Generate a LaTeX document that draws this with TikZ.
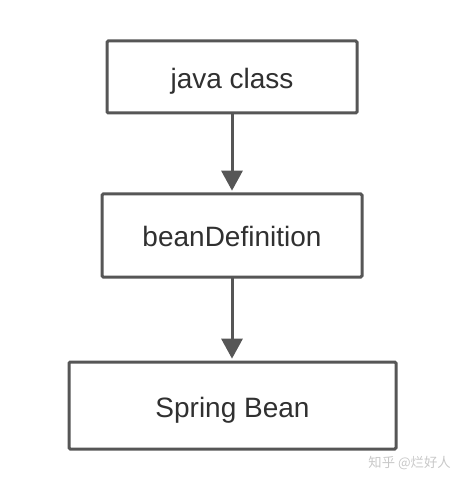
\documentclass[tikz,border=0pt]{standalone}
\usepackage{fontspec}
\setmainfont{Liberation Sans}
\newfontfamily\cjkfont{Noto Sans CJK SC}
\usetikzlibrary{arrows.meta}
\definecolor{edgegray}{HTML}{565656}
\definecolor{txtgray}{HTML}{303030}
\definecolor{wmgray}{HTML}{C8C8C8}
\tikzset{
  boxnode/.style={draw=edgegray, line width=2.25pt, rounded corners=1pt, fill=white,
    inner sep=0pt, outer sep=0pt, text=txtgray, font=\fontsize{21}{25}\selectfont,
    text height=15pt, text depth=0pt},
  flowarrow/.style={draw=edgegray, line width=2.25pt, shorten >=2.5pt,
    -{Triangle[width=15.75pt,length=15pt]}},
}
\begin{document}
\begin{tikzpicture}[x=0.75pt,y=-0.75pt]
\useasboundingbox (0,0) rectangle (462,484);
\node[boxnode, minimum width=187.5pt, minimum height=54pt] (b1) at (232,77) {\raisebox{-1.5pt}{java class}};
\node[boxnode, minimum width=195pt, minimum height=62.25pt] (b2) at (232,235.5) {\raisebox{-1pt}{beanDefinition}};
\node[boxnode, minimum width=245.25pt, minimum height=65.25pt] (b3) at (232.5,405.5) {\raisebox{-1.5pt}{Spring Bean}};
\draw[flowarrow] (b1) -- (b2);
\draw[flowarrow] (b2.south) -- (b2.south |- b3.north);
\node[text=wmgray, font=\cjkfont\fontsize{10}{12}\selectfont, anchor=east, inner sep=0pt] (wm) at (451,463) {知乎 @烂好人};
\end{tikzpicture}
\end{document}
